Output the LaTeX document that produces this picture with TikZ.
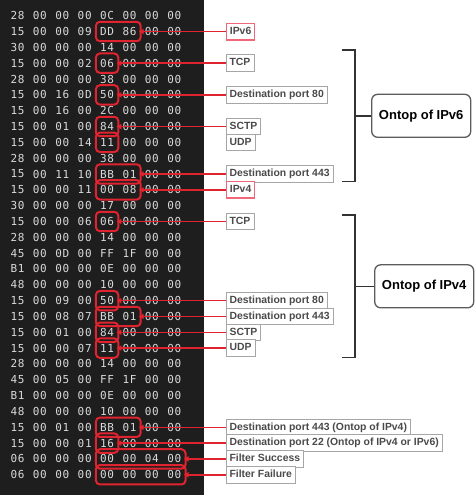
\documentclass[tikz,border=0pt]{standalone}
\usepackage{fontspec}
\usetikzlibrary{fit,arrows.meta}
\newfontfamily\hexfont[LetterSpace=6]{DejaVu Sans Mono}
\newfontfamily\lblfont{Liberation Sans}

\definecolor{panel}{HTML}{1E1E1E}
\definecolor{hexgray}{HTML}{DADADA}
\definecolor{markred}{HTML}{E0242F}
\definecolor{ipred}{HTML}{F06878}
\definecolor{lblgray}{HTML}{A6A6A6}
\definecolor{lbltext}{HTML}{4A4A4A}
\definecolor{darkline}{HTML}{333333}

\tikzset{
    hexbyte/.style={inner sep=0pt, minimum width=15pt, minimum height=12pt,
        text=hexgray, font=\hexfont\fontsize{11}{12}\selectfont},
    hexmark/.style={draw=markred, line width=2pt, rounded corners=4pt,
        inner xsep=3.5pt, inner ysep=3.5pt},
    hexarrow/.style={draw=markred, line width=1.5pt,
        -{Latex[length=5pt,width=6pt]}, shorten >=-3pt},
    lbl/.style={draw=lblgray, fill=white, line width=0.8pt, anchor=west,
        text=lbltext, inner xsep=3.5pt, inner ysep=0pt,
        text height=7.5pt, text depth=2pt, minimum height=16.6pt,
        font=\lblfont\bfseries\fontsize{10.4}{12}\selectfont},
    iplbl/.style={lbl, draw=ipred, line width=1.4pt},
    ontop/.style={draw=darkline!80, line width=1.3pt, rounded corners=6pt,
        minimum width=99pt, minimum height=43pt, text=black,
        font=\lblfont\bfseries\fontsize{13}{15}\selectfont},
    brace/.style={draw=darkline, line width=1.5pt}
}

\begin{document}
\begin{tikzpicture}[x=1pt, y=-1pt]
    \useasboundingbox (0,0) rectangle (474,495);
    \fill[panel] (0,0) rectangle (204,495);

    % hex dump
    \foreach \row [count=\i] in {
        {28,00,00,00,0C,00,00,00},{15,00,00,09,DD,86,00,00},
        {30,00,00,00,14,00,00,00},{15,00,00,02,06,00,00,00},
        {28,00,00,00,38,00,00,00},{15,00,16,0D,50,00,00,00},
        {15,00,16,00,2C,00,00,00},{15,00,01,00,84,00,00,00},
        {15,00,00,14,11,00,00,00},{28,00,00,00,38,00,00,00},
        {15,00,11,10,BB,01,00,00},{15,00,00,11,00,08,00,00},
        {30,00,00,00,17,00,00,00},{15,00,00,06,06,00,00,00},
        {28,00,00,00,14,00,00,00},{45,00,0D,00,FF,1F,00,00},
        {B1,00,00,00,0E,00,00,00},{48,00,00,00,10,00,00,00},
        {15,00,09,00,50,00,00,00},{15,00,08,07,BB,01,00,00},
        {15,00,01,00,84,00,00,00},{15,00,00,07,11,00,00,00},
        {28,00,00,00,14,00,00,00},{45,00,05,00,FF,1F,00,00},
        {B1,00,00,00,0E,00,00,00},{48,00,00,00,10,00,00,00},
        {15,00,01,00,BB,01,00,00},{15,00,00,01,16,00,00,00},
        {06,00,00,00,00,00,04,00},{06,00,00,00,00,00,00,00}}
        \foreach \b [count=\j] in \row
            \node[hexbyte] (b\i-\j) at ({17.5+22.4*(\j-1)},{15.7+15.83*(\i-1)}) {\b};

    % marked bytes
    \foreach \r/\a/\z in {2/5/6,4/5/5,6/5/5,8/5/5,9/5/5,11/5/6,12/5/6,14/5/5,
                          19/5/5,20/5/6,21/5/5,22/5/5,27/5/6,28/5/5,29/5/8,30/5/8}
        \node[hexmark, fit=(b\r-\a)(b\r-\z)] (m\r) {};

    % labels
    \foreach \r/\sty/\txt in {2/iplbl/IPv6, 4/lbl/TCP, 6/lbl/Destination port 80,
            8/lbl/SCTP, 9/lbl/UDP, 11/lbl/Destination port 443, 12/iplbl/IPv4,
            14/lbl/TCP, 19/lbl/Destination port 80, 20/lbl/Destination port 443,
            21/lbl/SCTP, 22/lbl/UDP, 27/lbl/Destination port 443 (Ontop of IPv4),
            28/lbl/Destination port 22 (Ontop of IPv4 or IPv6),
            29/lbl/Filter Success, 30/lbl/Filter Failure}
        \node[\sty] (l\r) at (225.7,{15.7+15.83*(\r-1)}) {\txt};

    \foreach \r in {2,4,6,8,11,12,14,19,20,21,22,27,28,29,30}
        \draw[hexarrow] (l\r.west) -- (m\r.east);

    % brackets
    \node[ontop] (on6) at (421.2,115.8) {Ontop of IPv6};
    \node[ontop] (on4) at (424.2,286.3) {Ontop of IPv4};
    \coordinate (br6) at (355,115.8);
    \coordinate (br4) at (355,286.3);
    \draw[brace] (341.7,50) -- (355,50) -- (355,181.7) -- (341.7,181.7);
    \draw[brace] (br6) -- (on6.west);
    \draw[brace] (341.7,215) -- (355,215) -- (355,357.7) -- (341.7,357.7);
    \draw[brace] (br4) -- (on4.west);
\end{tikzpicture}
\end{document}
